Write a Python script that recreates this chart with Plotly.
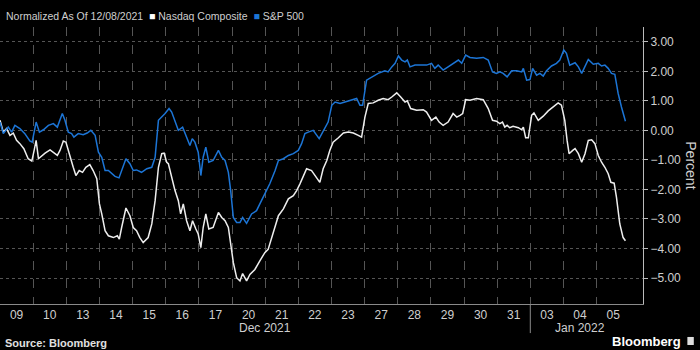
import plotly.graph_objects as go

# ---- data (positions are in trading-session units from the 12/09/2021 open) ----
day_labels = ["09", "10", "13", "14", "15", "16", "17", "20", "21", "22", "23",
              "27", "28", "29", "30", "31", "03", "04", "05"]
month_labels = ["Dec 2021", "Jan 2022"]
month_centers = [8.0, 17.5]
month_break = 16

spx_t = [0.00, 0.10, 0.25, 0.35, 0.45, 0.60, 0.75, 0.90, 0.97, 1.09, 1.19, 1.31, 1.46, 1.61,
         1.73, 1.81, 1.88, 1.96, 2.06, 2.16, 2.23, 2.36, 2.51, 2.63, 2.74, 2.87, 2.97, 3.07,
         3.17, 3.27, 3.37, 3.47, 3.59, 3.67, 3.80, 3.92, 4.02, 4.12, 4.27, 4.43, 4.58, 4.68,
         4.78, 4.98, 5.10, 5.18, 5.28, 5.38, 5.51, 5.63, 5.73, 5.80, 5.88, 5.98, 6.06, 6.13,
         6.21, 6.30, 6.43, 6.59, 6.69, 6.79, 6.89, 6.96, 7.04, 7.14, 7.24, 7.32, 7.44, 7.59,
         7.74, 7.84, 7.94, 8.05, 8.14, 8.30, 8.40, 8.55, 8.70, 8.85, 9.00, 9.10, 9.20, 9.30,
         9.45, 9.63, 9.80, 9.90, 10.01, 10.11, 10.26, 10.41, 10.61, 10.76, 10.86, 10.94,
         11.06, 11.21, 11.41, 11.61, 11.71, 11.82, 11.92, 12.02, 12.12, 12.22, 12.29, 12.37,
         12.52, 12.67, 12.87, 13.02, 13.12, 13.22, 13.37, 13.52, 13.67, 13.83, 13.93, 14.05,
         14.18, 14.38, 14.58, 14.73, 14.86, 14.98, 15.08, 15.18, 15.30, 15.44, 15.59, 15.74,
         15.79, 15.89, 15.99, 16.07, 16.19, 16.29, 16.39, 16.49, 16.64, 16.79, 16.89, 17.01,
         17.09, 17.19, 17.35, 17.45, 17.55, 17.65, 17.75, 17.90, 18.05, 18.15, 18.25, 18.35,
         18.45, 18.55, 18.65, 18.75, 18.87]
spx_v = [0.28, -0.11, 0.11, -0.06, 0.17, 0.06, -0.11, -0.36, -0.40, 0.28, -0.06, 0.02, 0.17, 0.23,
         0.11, 0.34, 0.57, 0.34, -0.06, -0.11, -0.23, -0.11, -0.15, -0.09, 0.00, -0.17, -0.74, -0.91,
         -1.36, -1.36, -1.47, -1.56, -1.61, -1.36, -0.96, -1.13, -1.36, -1.34, -1.42, -1.30, -1.25, -0.91,
         0.34, 0.57, 0.74, 0.62, 0.28, 0.00, 0.11, -0.23, -0.51, -0.28, -0.40, -0.74, -1.53, -0.91,
         -0.57, -1.08, -1.02, -0.68, -0.91, -1.02, -1.42, -2.04, -2.95, -3.12, -3.12, -2.95, -3.15, -2.83,
         -2.72, -2.49, -2.27, -1.98, -1.81, -1.36, -1.02, -0.96, -0.85, -0.79, -0.68, -0.45, -0.11, -0.06,
         0.00, -0.28, 0.06, 0.28, 0.85, 0.96, 0.91, 0.96, 1.02, 1.08, 0.85, 0.85,
         1.70, 1.81, 1.93, 2.02, 1.98, 2.15, 2.27, 2.52, 2.38, 2.32, 2.38, 2.15,
         2.21, 2.21, 2.21, 2.27, 2.10, 2.21, 2.04, 2.15, 2.27, 2.38, 2.27, 2.55,
         2.47, 2.44, 2.47, 2.38, 1.98, 1.93, 1.98, 1.93, 1.81, 2.02, 2.02, 1.98,
         2.10, 1.70, 1.72, 2.10, 1.87, 1.93, 1.84, 2.02, 2.18, 2.27, 2.38, 2.72,
         2.61, 2.21, 2.29, 2.15, 1.93, 2.15, 2.40, 2.24, 2.27, 2.18, 2.21, 2.10,
         1.93, 1.90, 1.25, 0.79, 0.31]

ndx_t = [0.00, 0.10, 0.20, 0.30, 0.40, 0.50, 0.60, 0.72, 0.85, 0.96, 1.03, 1.09, 1.16, 1.26,
         1.36, 1.51, 1.61, 1.73, 1.81, 1.91, 1.99, 2.11, 2.21, 2.29, 2.39, 2.49, 2.59, 2.71,
         2.81, 2.92, 3.00, 3.07, 3.17, 3.27, 3.42, 3.54, 3.60, 3.67, 3.80, 3.92, 4.02, 4.12,
         4.22, 4.32, 4.47, 4.58, 4.68, 4.78, 4.88, 4.95, 5.03, 5.08, 5.18, 5.28, 5.38, 5.45,
         5.53, 5.63, 5.73, 5.81, 5.91, 5.98, 6.06, 6.13, 6.21, 6.30, 6.43, 6.59, 6.69, 6.79,
         6.89, 6.96, 7.04, 7.14, 7.24, 7.32, 7.44, 7.54, 7.69, 7.84, 7.99, 8.09, 8.20, 8.30,
         8.40, 8.55, 8.70, 8.85, 8.95, 9.05, 9.15, 9.25, 9.40, 9.55, 9.65, 9.75, 9.86, 9.95,
         10.05, 10.21, 10.36, 10.51, 10.66, 10.81, 10.91, 11.01, 11.11, 11.26, 11.41, 11.56,
         11.71, 11.82, 11.97, 12.09, 12.22, 12.29, 12.39, 12.57, 12.77, 12.87, 13.02, 13.15,
         13.25, 13.37, 13.52, 13.67, 13.78, 13.88, 13.96, 14.05, 14.18, 14.38, 14.58, 14.73,
         14.86, 14.98, 15.08, 15.16, 15.23, 15.30, 15.38, 15.48, 15.64, 15.74, 15.79, 15.86,
         15.94, 16.04, 16.11, 16.24, 16.39, 16.54, 16.69, 16.84, 16.94, 17.04, 17.11, 17.17,
         17.28, 17.35, 17.45, 17.55, 17.65, 17.75, 17.85, 17.95, 18.05, 18.15, 18.25, 18.35,
         18.43, 18.53, 18.60, 18.70, 18.80, 18.87]
ndx_v = [0.34, -0.06, 0.06, -0.17, -0.09, -0.34, -0.45, -0.62, -0.96, -1.04, -0.68, -0.34, -0.96, -0.85,
         -0.77, -0.66, -0.74, -0.85, -0.68, -0.36, -0.40, -0.91, -1.25, -1.53, -1.36, -1.42, -1.25, -1.16,
         -1.36, -1.64, -2.49, -2.83, -3.40, -3.57, -3.63, -3.57, -3.68, -3.29, -2.63, -2.89, -3.29, -3.40,
         -3.63, -3.80, -3.63, -3.17, -2.38, -1.25, -0.79, -0.77, -1.08, -1.13, -1.59, -2.04, -2.38, -2.83,
         -2.49, -3.06, -3.40, -3.06, -3.34, -3.51, -3.97, -3.29, -2.83, -3.34, -3.29, -2.78, -2.95, -3.06,
         -3.29, -3.85, -4.48, -4.99, -5.10, -4.85, -5.10, -4.88, -4.71, -4.42, -4.14, -4.03, -3.63, -3.29,
         -2.89, -2.66, -2.32, -2.21, -2.04, -1.81, -1.53, -1.30, -1.36, -1.59, -1.76, -1.30, -1.02, -0.68,
         -0.40, -0.25, -0.09, -0.06, -0.09, -0.17, -0.23, 0.45, 0.91, 0.93, 1.02, 1.08,
         1.04, 1.13, 1.27, 1.13, 0.96, 1.00, 0.74, 0.68, 0.70, 0.62, 0.34, 0.45,
         0.28, 0.17, 0.28, 0.57, 0.45, 0.51, 0.57, 1.04, 1.02, 1.08, 1.04, 0.74,
         0.34, 0.31, 0.23, 0.28, 0.11, 0.17, 0.09, 0.14, 0.09, 0.02, 0.11, -0.25,
         -0.25, 0.51, 0.59, 0.34, 0.48, 0.66, 0.79, 0.93, 0.85, 0.34, -0.34, -0.79,
         -0.68, -0.62, -0.79, -1.08, -0.79, -0.34, -0.32, -0.45, -0.85, -1.08, -1.25, -1.47,
         -1.76, -1.79, -2.27, -3.17, -3.63, -3.74]

y_ticks = [-5, -4, -3, -2, -1, 0, 1, 2, 3]

WHITE = "#eeeeee"
BLUE = "#1c75d6"
TXT = "#cfcfcf"
GRID = "#555555"
FONT = "Liberation Sans, Arial, sans-serif"

fig = go.Figure()
fig.add_trace(go.Scatter(x=ndx_t, y=ndx_v, mode="lines", name="Nasdaq Composite",
                         line=dict(color=WHITE, width=1.5)))
fig.add_trace(go.Scatter(x=spx_t, y=spx_v, mode="lines", name="S&P 500",
                         line=dict(color=BLUE, width=1.5)))

centers = [i + 0.5 for i in range(len(day_labels))]
bounds = list(range(1, len(day_labels)))

fig.update_layout(
    width=700, height=350,
    paper_bgcolor="black", plot_bgcolor="black",
    margin=dict(l=0, r=57, t=27, b=46),
    showlegend=False,
    font=dict(family=FONT, color=TXT, size=12),
    xaxis=dict(
        range=[0, 19.4], tickmode="array", tickvals=centers, ticktext=day_labels,
        showgrid=False, zeroline=False, showline=True, linecolor="#8a8a8a", linewidth=1,
        ticks="", tickfont=dict(size=12, color=TXT, family=FONT),
        minor=dict(tickmode="array", tickvals=bounds, showgrid=True,
                   gridcolor=GRID, griddash="dash", gridwidth=1, ticks=""),
    ),
    yaxis=dict(
        side="right", range=[-5.88, 3.5], tickmode="array", tickvals=y_ticks,
        tickformat=".2f", showgrid=True, gridcolor=GRID, griddash="dot", gridwidth=1,
        zeroline=False, showline=True, linecolor="#bbbbbb", linewidth=1,
        ticks="outside", ticklen=4, tickcolor="#bbbbbb",
        tickfont=dict(size=12, color=TXT, family=FONT),
    ),
)

# year separator below the axis
fig.add_shape(type="line", xref="x", yref="paper", x0=month_break, x1=month_break,
              y0=0, y1=-0.105, line=dict(color="#8a8a8a", width=1))

for lab, cx in zip(month_labels, month_centers):
    fig.add_annotation(x=cx, xref="x", y=-0.087, yref="paper", text=lab, showarrow=False,
                       xanchor="center", yanchor="middle", font=dict(size=12, color=TXT))

fig.add_annotation(x=1.075, xref="paper", y=0.50, yref="paper", text="Percent",
                   xanchor="center", yanchor="middle",
                   textangle=90, showarrow=False, font=dict(size=14, color=TXT))

fig.add_annotation(
    x=0.006, xref="paper", y=1.04, yref="paper", xanchor="left", yanchor="middle",
    showarrow=False, font=dict(size=10.5, color=TXT),
    text=("Normalized As Of 12/08/2021&nbsp;&nbsp;<span style='color:%s'>■</span> Nasdaq Composite"
          "&nbsp;&nbsp;<span style='color:%s'>■</span> S&P 500") % ("#ffffff", BLUE),
)

fig.add_annotation(x=0.004, xref="paper", y=-0.141, yref="paper", xanchor="left",
                   yanchor="middle", showarrow=False, text="<b>Source: Bloomberg</b>",
                   font=dict(size=11, color="#e0e0e0"))
fig.add_annotation(x=1.062, xref="paper", y=-0.134, yref="paper", xanchor="right",
                   yanchor="middle", showarrow=False, text="<b>Bloomberg</b>",
                   font=dict(size=13, color="#ffffff"))
fig.add_shape(type="rect", xref="paper", yref="paper", x0=1.069, x1=1.079,
              y0=-0.148, y1=-0.119, fillcolor="#dddddd", line=dict(width=0))

fig.write_html("out.html")
